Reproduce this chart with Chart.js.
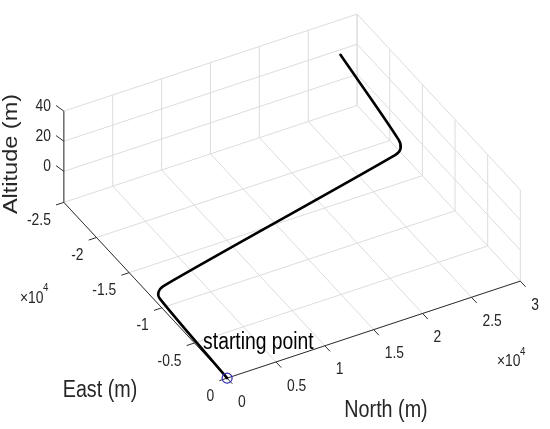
<!DOCTYPE html>
<html>
<head>
<meta charset="utf-8">
<script src="https://cdn.jsdelivr.net/npm/chart.js@4.4.0/dist/chart.umd.min.js"></script>
<style>
  html, body { margin: 0; padding: 0; background: #fff; }
  #chart { display: block; }
</style>
</head>
<body>
<canvas id="chart" width="550" height="429"></canvas>
<script>
// Flight path in a 3D box (North / East / Altitude)

// Axis ticks: North and East in x10^4 m, altitude in m
const northTicks = [0, 0.5, 1, 1.5, 2, 2.5, 3];
const eastTicks = [-2.5, -2, -1.5, -1, -0.5, 0];
const altTicks = [0, 20, 40];
const northLimits = [0, 3];
const eastLimits = [-2.5, 0];
const altLimits = [-20.6, 40];

// Trajectory (m)
const pathNorth = [0, 0, 290, 1000, 24740, 25450, 25740, 25740];
const pathEast = [0, -10250, -10960, -11250, -11250, -11540, -12250, -21170];
const pathAlt = [-20.6, -16.0, -15.6, -14.1, 22.0, 23.2, 25.2, 40];

const startLabel = 'starting point';

// View: where the box corner sits and how each axis unit is drawn
const view = { ox: 226, oy: 383, nx: 100, ny: -33.3, ex: 66.8, ey: 72.4, zy: -1.55 };
const squeeze = 0.84; // the text in the picture is narrower than it is tall
const fontFamily = '"Liberation Sans", Arial, Helvetica, sans-serif';

function project(n, e, z) {
    return {
        x: view.ox + n * view.nx + e * view.ex,
        y: view.oy + n * view.ny + e * view.ey + (z - altLimits[0]) * view.zy
    };
}

const gap = () => ({ x: null, y: null });

function addSeg(list, a, b) {
    list.push(project(...a), project(...b), gap());
}

// grid on floor, back wall and right wall
const gridPts = [];
northTicks.forEach(n => {
    addSeg(gridPts, [n, eastLimits[0], altLimits[0]], [n, eastLimits[1], altLimits[0]]);
    addSeg(gridPts, [n, eastLimits[0], altLimits[0]], [n, eastLimits[0], altLimits[1]]);
});
eastTicks.forEach(e => {
    addSeg(gridPts, [northLimits[0], e, altLimits[0]], [northLimits[1], e, altLimits[0]]);
    addSeg(gridPts, [northLimits[1], e, altLimits[0]], [northLimits[1], e, altLimits[1]]);
});
altTicks.forEach(z => {
    addSeg(gridPts, [northLimits[0], eastLimits[0], z], [northLimits[1], eastLimits[0], z]);
    addSeg(gridPts, [northLimits[1], eastLimits[0], z], [northLimits[1], eastLimits[1], z]);
});

// axis lines
const axisPts = [];
addSeg(axisPts, [0, eastLimits[0], altLimits[0]], [0, eastLimits[0], altLimits[1]]);
addSeg(axisPts, [0, eastLimits[0], altLimits[0]], [0, eastLimits[1], altLimits[0]]);
addSeg(axisPts, [northLimits[0], 0, altLimits[0]], [northLimits[1], 0, altLimits[0]]);

// tick marks (short strokes drawn in the box's own directions)
const tickPts = [];
altTicks.forEach(z => addSeg(tickPts, [0, eastLimits[0], z], [-0.02, eastLimits[0] - 0.09, z]));
eastTicks.forEach(e => addSeg(tickPts, [0, e, altLimits[0]], [-0.08, e, altLimits[0]]));
northTicks.forEach(n => addSeg(tickPts, [n, 0, altLimits[0]], [n, 0.08, altLimits[0]]));

const pathPts = pathNorth.map((n, i) => project(n / 1e4, pathEast[i] / 1e4, pathAlt[i]));

const labelsPlugin = {
    id: 'labels3d',
    afterDatasetsDraw(chart) {
        const ctx = chart.ctx;
        const sx = chart.scales.x, sy = chart.scales.y;
        const px = p => ({ x: sx.getPixelForValue(p.x), y: sy.getPixelForValue(p.y) });

        function drawText(str, x, y, size, align, baseline, color, rot) {
            ctx.save();
            ctx.translate(x, y);
            ctx.scale(squeeze, 1);
            if (rot) ctx.rotate(rot);
            ctx.font = size + 'px ' + fontFamily;
            ctx.textAlign = align;
            ctx.textBaseline = baseline;
            ctx.fillStyle = color;
            ctx.fillText(str, 0, 0);
            ctx.restore();
        }

        const tickColor = '#262626';
        const tickSize = 16.5;
        altTicks.forEach(z => {
            const p = px(project(0, eastLimits[0], z));
            drawText(String(z), p.x - 13, p.y - 5, tickSize, 'right', 'middle', tickColor);
        });
        eastTicks.forEach(e => {
            const p = px(project(0, e, altLimits[0]));
            drawText(String(e), p.x - 13, p.y + 18, tickSize, 'right', 'middle', tickColor);
        });
        northTicks.forEach(n => {
            const p = px(project(n, 0, altLimits[0]));
            drawText(String(n), p.x + 11, p.y + 24, tickSize, 'left', 'middle', tickColor);
        });

        // x10^4 multipliers
        drawText('\u00d710', 20, 298, tickSize, 'left', 'middle', tickColor);
        drawText('4', 43, 288, 11.5, 'left', 'middle', tickColor);
        drawText('\u00d710', 497, 361, tickSize, 'left', 'middle', tickColor);
        drawText('4', 520, 352, 11.5, 'left', 'middle', tickColor);

        // axis titles
        drawText('Altitude (m)', 12, 154, 23.5, 'center', 'middle', tickColor, -Math.PI / 2);
        drawText('East (m)', 100, 391, 23.5, 'center', 'middle', tickColor);
        drawText('North (m)', 386, 411, 23.5, 'center', 'middle', tickColor);

        const s = px(pathPts[0]);
        drawText(startLabel, s.x - 24, s.y - 29, 23, 'left', 'alphabetic', '#000');
    }
};

new Chart(document.getElementById('chart'), {
    type: 'line',
    data: {
        datasets: [
            {
                data: [pathPts[0]],
                showLine: false,
                pointStyle: 'circle',
                pointRadius: 5,
                pointBorderWidth: 1.2,
                pointBorderColor: '#2f2fb0',
                pointBackgroundColor: 'rgba(0,0,0,0)',
                order: 0
            },
            {
                data: pathPts,
                borderColor: '#000',
                borderWidth: 2.6,
                tension: 0.3,
                pointRadius: 0,
                borderCapStyle: 'round',
                borderJoinStyle: 'round',
                order: 1
            },
            {
                data: axisPts,
                borderColor: '#303030',
                borderWidth: 1,
                pointRadius: 0,
                order: 2
            },
            {
                data: tickPts,
                borderColor: '#303030',
                borderWidth: 1,
                pointRadius: 0,
                order: 3
            },
            {
                data: gridPts,
                borderColor: '#dcdcdc',
                borderWidth: 1,
                pointRadius: 0,
                order: 4
            }
        ]
    },
    options: {
        responsive: false,
        animation: false,
        layout: { padding: 0 },
        plugins: { legend: { display: false }, tooltip: { enabled: false } },
        scales: {
            x: { type: 'linear', min: 0, max: 550, display: false },
            y: { type: 'linear', min: 0, max: 429, reverse: true, display: false }
        }
    },
    plugins: [labelsPlugin]
});
</script>
</body>
</html>
